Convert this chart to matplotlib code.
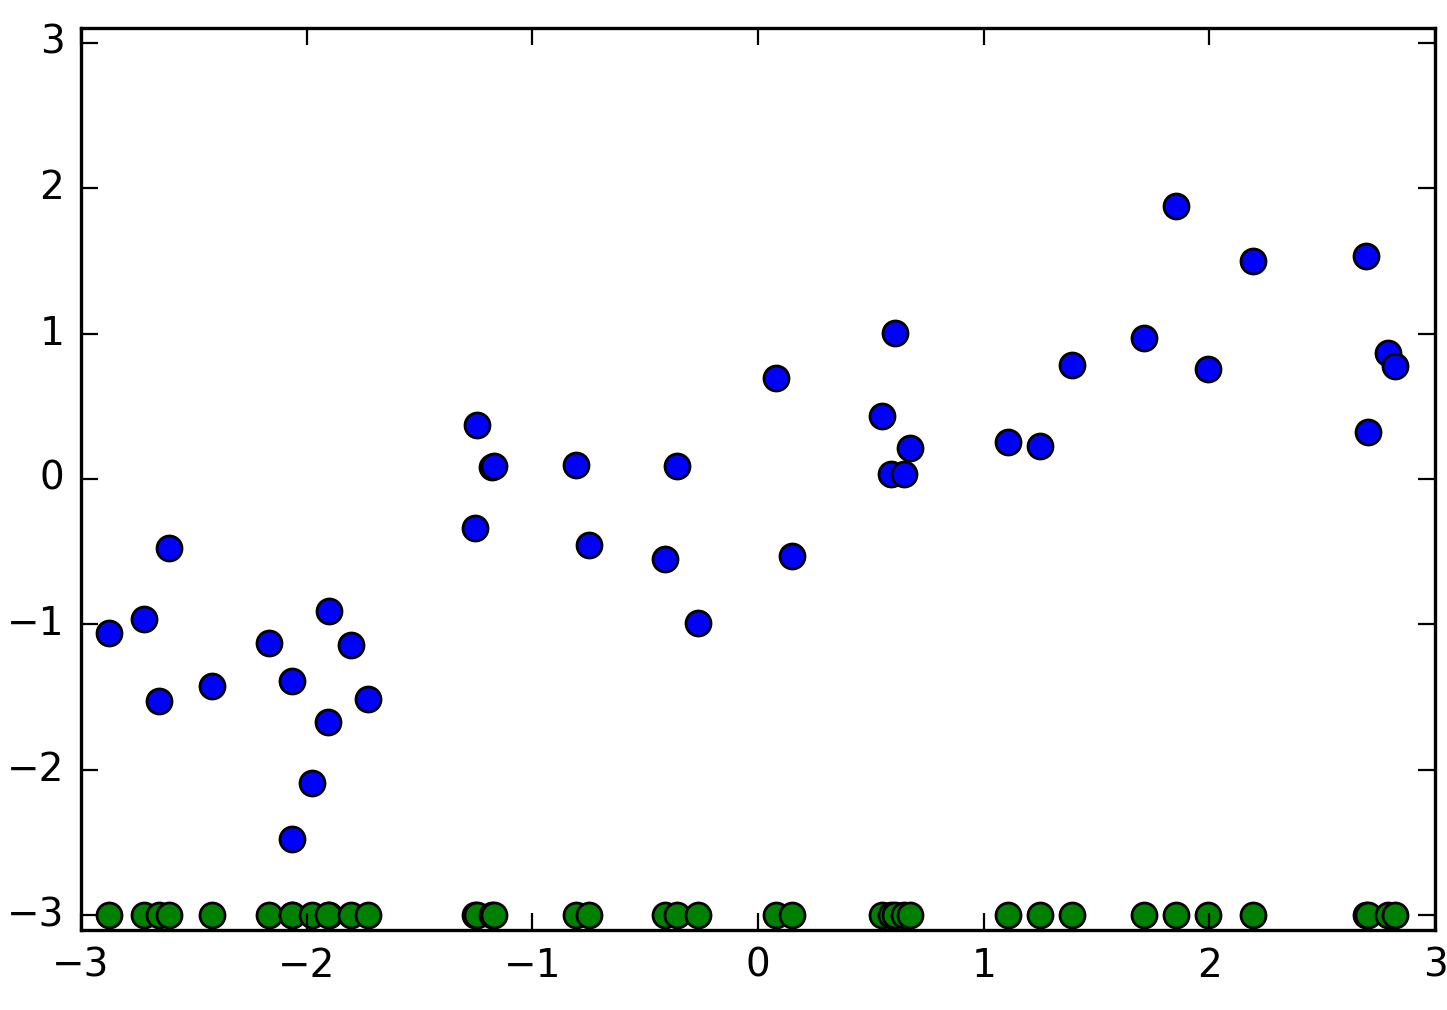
import matplotlib
matplotlib.use("Agg")
import matplotlib.pyplot as plt

plt.style.use("classic")

x = [-2.876, -2.721, -2.654, -2.610, -2.419, -2.167, -2.065, -2.065, -1.976, -1.901,
     -1.905, -1.804, -1.728, -1.254, -1.245, -1.179, -1.170, -0.806, -0.749, -0.412,
     -0.359, -0.266, 0.080, 0.151, 0.549, 0.589, 0.607, 0.647, 0.674, 1.108,
     1.250, 1.391, 1.710, 1.852, 1.994, 2.193, 2.694, 2.703, 2.792, 2.823]
y = [-1.058, -0.962, -1.526, -0.474, -1.423, -1.127, -1.388, -2.474, -2.089, -0.907,
     -1.670, -1.141, -1.512, -0.337, 0.371, 0.082, 0.089, 0.096, -0.454, -0.550,
     0.089, -0.990, 0.694, -0.529, 0.433, 0.034, 1.003, 0.034, 0.213, 0.254,
     0.227, 0.784, 0.969, 1.876, 0.756, 1.498, 1.533, 0.323, 0.866, 0.777]
baseline = -3

fig = plt.figure(figsize=(7.235, 5.05), dpi=200, facecolor="white")
ax = fig.add_axes([0.056, 0.0792, 0.9357, 0.8931])
ax.plot(x, y, "o", color="b", markeredgecolor="k", markersize=9, markeredgewidth=1)
ax.plot(x, [baseline] * len(x), "o", color="g", markeredgecolor="k", markersize=9, markeredgewidth=1)
ax.set_xlim(-3, 3)
ax.set_ylim(-3.1, 3.1)
ax.set_xticks([-3, -2, -1, 0, 1, 2, 3])
ax.set_yticks([-3, -2, -1, 0, 1, 2, 3])
for s in ax.spines.values():
    s.set_linewidth(1.2)
ax.tick_params(labelsize=14, length=6, width=0.8, pad=6)
fig.savefig("out.png", dpi=200, facecolor="white")
